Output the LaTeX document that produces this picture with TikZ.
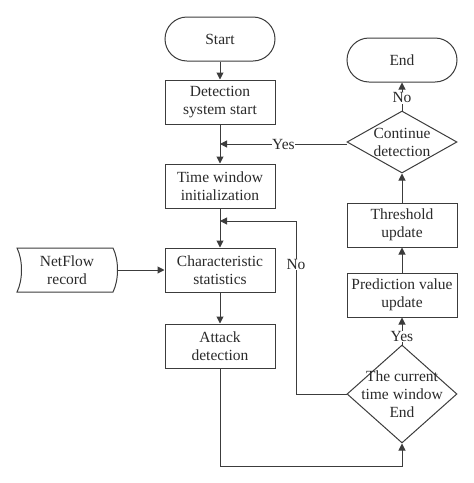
\documentclass[tikz,border=0pt]{standalone}
\usepackage{fontspec}
\setmainfont{Liberation Serif}
\usetikzlibrary{shapes.geometric,arrows.meta}
\definecolor{ln}{HTML}{3C3C3C}
\definecolor{tx}{HTML}{2A2A2A}
\begin{document}
\begin{tikzpicture}[x=1pt,y=-1pt,
  every node/.style={text=tx,font=\fontsize{15.5}{18}\selectfont,align=center},
  proc/.style={draw=ln,line width=1pt,minimum width=110pt,minimum height=44pt,inner sep=1pt},
  term/.style={draw=ln,line width=1pt,rounded corners=22pt,minimum width=110pt,minimum height=44pt},
  dia/.style={draw=ln,line width=1pt,diamond,minimum width=110pt,inner sep=0pt},
  conn/.style={draw=ln,line width=1pt},
  arr/.style={conn,-{Triangle[length=7pt,width=7pt]}},
  lbl/.style={fill=white,inner sep=0.5pt}]
\useasboundingbox (0,0) rectangle (474,483);
\node[term] (start) at (220,39) {Start};
\node[proc] (det) at (220,102) {Detection\\system start};
\node[proc] (tw) at (220,186) {Time window\\initialization};
\node[proc] (cs) at (220,270) {Characteristic\\statistics};
\node[proc] (ad) at (220,346) {Attack\\detection};
\node[term] (end) at (402,60) {End};
\node[dia,minimum height=62pt] (cd) at (402,142) {};
\node (cdt) at (402,142) {Continue\\detection};
\node[proc] (th) at (402,225) {Threshold\\update};
\node[proc] (pv) at (402,295) {Prediction value\\update};
\node[dia,minimum height=98pt] (cw) at (402,394) {};
\node (cwt) at (402,394) {The current\\time window\\End};
\node[minimum width=100pt,minimum height=44pt] (nf) at (67,270) {NetFlow\\record};
\draw[conn] (17,248) -- (113,248) .. controls (119,260) and (119,280) .. (113,292) -- (17,292) .. controls (23,280) and (23,260) .. (17,248) -- cycle;
\coordinate (y1) at (220,144);
\coordinate (y1s) at (347,144);
\coordinate (n1) at (220,221);
\coordinate (nc1) at (296,394);
\coordinate (nc2) at (296,221);
\coordinate (b1) at (220,466);
\coordinate (b2) at (402,466);
\draw[arr] (start) -- (det);
\draw[arr] (det) -- (tw);
\draw[arr] (tw) -- (cs);
\draw[arr] (cs) -- (ad);
\draw[arr] (nf.east) -- (cs);
\draw[arr] (y1s) -- node[lbl,pos=0.5] {Yes} (y1);
\draw[arr] (cd.north) -- node[lbl,pos=0.45] {No} (end.south);
\draw[arr] (th) -- (cd.south);
\draw[arr] (pv) -- (th);
\draw[arr] (cw.north) -- node[lbl,pos=0.3] {Yes} (pv.south);
\draw[arr] (cw.west) -- (nc1) -- node[lbl,pos=0.75] {No} (nc2) -- (n1);
\draw[arr] (ad) -- (b1) -- (b2) -- (cw.south);
\end{tikzpicture}
\end{document}
